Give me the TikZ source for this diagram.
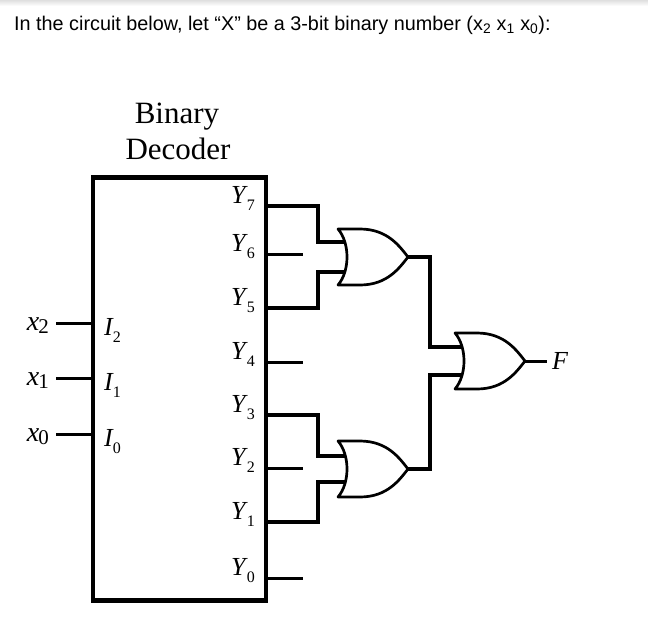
\documentclass[tikz,border=0pt]{standalone}
\usepackage{fontspec}
\setmainfont{Liberation Serif}
\newfontfamily\titlefont{Liberation Sans}
\newcommand{\sublab}[2]{\textit{#1}\kern-1pt\raisebox{-0.28em}{\fontsize{16}{16}\selectfont #2}}
\newcommand{\orgate}[4]{% name, back x, center y, half height
  \fill[white] (#2,#3-#4) -- (#2+22,#3-#4) .. controls (#2+50,#3-#4) and (#2+62,#3-10) .. (#2+70,#3)
    .. controls (#2+62,#3+10) and (#2+50,#3+#4) .. (#2+22,#3+#4) -- (#2,#3+#4)
    .. controls (#2+12,#3+#4/2) and (#2+12,#3-#4/2) .. cycle;
  \draw[gateline] (#2,#3-#4) -- (#2+22,#3-#4) .. controls (#2+50,#3-#4) and (#2+62,#3-10) .. (#2+70,#3)
    .. controls (#2+62,#3+10) and (#2+50,#3+#4) .. (#2+22,#3+#4) -- (#2,#3+#4)
    .. controls (#2+12,#3+#4/2) and (#2+12,#3-#4/2) .. cycle;
  \coordinate (#1out) at (#2+70,#3);
}
\begin{document}
\begin{tikzpicture}[x=1pt,y=-1pt,
  wire/.style={line width=4pt, line join=miter},
  stub/.style={line width=3pt},
  gateline/.style={line width=2.7pt, line join=round},
  lbl/.style={font=\fontsize{26}{26}\selectfont, inner sep=0pt},
  xlbl/.style={font=\fontsize{28}{28}\selectfont, inner sep=0pt},
  hdr/.style={font=\fontsize{31}{32}\selectfont, inner sep=0pt, anchor=base}]
\useasboundingbox (0,0) rectangle (648,638);
\shade[top color=gray!25, bottom color=white] (0,0) rectangle (648,6);
\node[font=\titlefont\fontsize{19.8}{22}\selectfont, anchor=base west, inner sep=0pt] (title) at (14,30)
  {In the circuit below, let “X” be a 3-bit binary number (x\textsubscript{2} x\textsubscript{1} x\textsubscript{0}):};
\node[hdr] (bin) at (177,123) {Binary};
\node[hdr] (decod) at (178,159) {Decoder};
\node[draw, line width=4.5pt, minimum width=173pt, minimum height=423pt, inner sep=0pt] (dec) at (179.5,389) {};
% outputs
\foreach \n/\y in {7/206,6/254,5/308,4/362,3/415,2/468,1/522,0/578}{
  \coordinate (y\n) at (266,\y);
  \node[lbl, anchor=base east] (ly\n) at (255,\y-3) {\sublab{Y}{\n}};
}
% inputs
\foreach \n/\y in {2/323,1/378,0/434}{
  \coordinate (i\n) at (93,\y);
  \coordinate (xs\n) at (56,\y);
  \node[lbl, anchor=base west] (li\n) at (104,\y+12) {\sublab{I}{\n}};
  \node[xlbl, anchor=base east] (lx\n) at (49,\y+7) {\textit{x}\kern-1pt\raisebox{-0.12em}{\fontsize{21}{21}\selectfont\n}};
  \draw[stub] (xs\n) -- (i\n);
}
% stubs
\foreach \n in {6,4,2,0}{
  \coordinate (s\n) at (303,0 |- y\n);
  \draw[stub] (y\n) -- (s\n);
}
% gate inputs
\coordinate (g1a) at (346,242); \coordinate (g1b) at (346,272);
\coordinate (g2a) at (346,456); \coordinate (g2b) at (346,482);
\coordinate (g3a) at (462,347); \coordinate (g3b) at (462,375);
\draw[wire] (y7) -| (318,242) -- (g1a);
\draw[wire] (y5) -| (318,272) -- (g1b);
\draw[wire] (y3) -| (318,456) -- (g2a);
\draw[wire] (y1) -| (318,482) -- (g2b);
\orgate{g1}{338}{257}{28}
\orgate{g2}{338}{469}{28}
\draw[wire] (g1out) -| (430,347) -- (g3a);
\draw[wire] (g2out) -| (430,375) -- (g3b);
\orgate{g3}{455}{361}{28}
\coordinate (fend) at (547,361);
\draw[stub] (g3out) -- (fend);
\node[lbl, anchor=west, font=\fontsize{26}{26}\selectfont\itshape] (F) at (552,361) {F};
\end{tikzpicture}
\end{document}
